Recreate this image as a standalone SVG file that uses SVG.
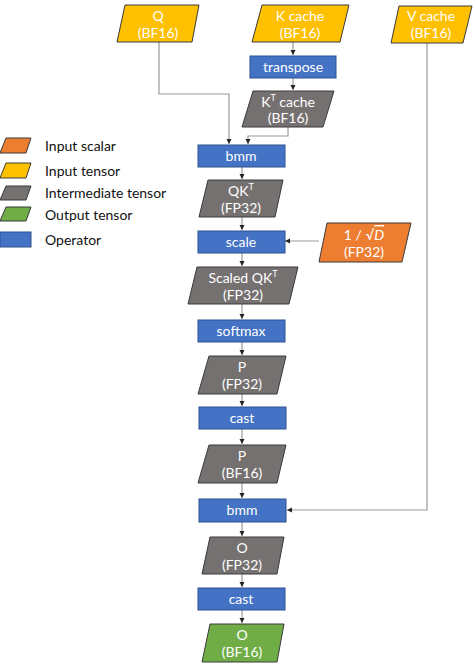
<svg xmlns="http://www.w3.org/2000/svg" width="474" height="671" viewBox="0 0 474 671">
<defs>
<marker id="ah" markerWidth="6" markerHeight="6" refX="5" refY="3" orient="auto" markerUnits="userSpaceOnUse">
<path d="M0,0.5 L5,3 L0,5.5 Z" fill="#222"/>
</marker>
<style>
text{font-family:Lato,"Open Sans","Liberation Sans",sans-serif;font-size:14px;}
.w{fill:#fff;text-anchor:middle;}
.k{fill:#111;}
.op{fill:#4472C4;stroke:#2F528F;stroke-width:1;}
.in{fill:#FFC000;stroke:#3a3a3a;stroke-width:1;}
.mid{fill:#767171;stroke:#3a3a3a;stroke-width:1;}
.sc{fill:#ED7D31;stroke:#3a3a3a;stroke-width:1;}
.out{fill:#70AD47;stroke:#3a3a3a;stroke-width:1;}
.c{fill:none;stroke:#9a9a9a;stroke-width:1.2;marker-end:url(#ah);}
</style>
</defs>
<rect width="474" height="671" fill="#fff"/>

<g id="legend">
<polygon class="sc" points="6,138 31,138 26,153 0,153"/>
<text class="k" x="45" y="151">Input scalar</text>
<polygon class="in" points="6,163 31,163 26,178 0,178"/>
<text class="k" x="45" y="176">Input tensor</text>
<polygon class="mid" points="6,186 31,186 26,200 0,200"/>
<text class="k" x="45" y="198">Intermediate tensor</text>
<polygon class="out" points="6,207 31,207 26,221 0,221"/>
<text class="k" x="45" y="220">Output tensor</text>
<rect class="op" x="0" y="232" width="31" height="15"/>
<text class="k" x="45" y="245">Operator</text>
</g>

<g id="connectors">
<path class="c" d="M159,42 V94 H229 V144"/>
<path class="c" d="M288,127 V136 H248 V144"/>
<path class="c" d="M293,42 V55"/>
<path class="c" d="M293,78 V90"/>
<path class="c" d="M427,43 V510 H287"/>
<path class="c" d="M319,241 H285"/>
<path class="c" d="M242,167 V179"/>
<path class="c" d="M242,217 V230"/>
<path class="c" d="M242,253 V266"/>
<path class="c" d="M242,304 V319"/>
<path class="c" d="M242,342 V355"/>
<path class="c" d="M242,394 V406"/>
<path class="c" d="M242,429 V444"/>
<path class="c" d="M242,483 V498"/>
<path class="c" d="M242,522 V536"/>
<path class="c" d="M242,574 V587"/>
<path class="c" d="M242,610 V623"/>
</g>

<g id="q">
<polygon class="in" points="125,5 199,5 192,42 117,42"/>
<text class="w" x="158" y="21">Q</text>
<text class="w" x="158" y="38">(BF16)</text>
</g>
<g id="kcache">
<polygon class="in" points="262,5 349,5 340,42 252,42"/>
<text class="w" x="300" y="21">K cache</text>
<text class="w" x="300" y="38">(BF16)</text>
</g>
<g id="vcache">
<polygon class="in" points="399,6 472,6 463,43 391,43"/>
<text class="w" x="431" y="21">V cache</text>
<text class="w" x="431" y="38">(BF16)</text>
</g>
<g id="transpose">
<rect class="op" x="250" y="56" width="86" height="22"/>
<text class="w" x="293" y="72">transpose</text>
</g>
<g id="ktcache">
<polygon class="mid" points="253,91 334,91 323,127 242,127"/>
<text class="w" x="288" y="107">K<tspan font-size="9" dy="-6">T</tspan><tspan dy="6"> cache</tspan></text>
<text class="w" x="288" y="123">(BF16)</text>
</g>
<g id="bmm1">
<rect class="op" x="198" y="145" width="87" height="22"/>
<text class="w" x="241" y="161">bmm</text>
</g>
<g id="qkt">
<polygon class="mid" points="208,180 283,180 275,217 199,217"/>
<text class="w" x="241" y="196">QK<tspan font-size="9" dy="-6">T</tspan></text>
<text class="w" x="241" y="213">(FP32)</text>
</g>
<g id="scale">
<rect class="op" x="198" y="231" width="87" height="22"/>
<text class="w" x="241" y="247">scale</text>
</g>
<g id="invsqrtd">
<polygon class="sc" points="327,223 411,223 402,262 319,262"/>
<text class="w" x="364" y="240">1 / √<tspan font-style="italic" text-decoration="overline">D</tspan></text>
<text class="w" x="364" y="257">(FP32)</text>
</g>
<g id="scaledqkt">
<polygon class="mid" points="197,267 298,267 289,304 188,304"/>
<text class="w" x="243" y="283">Scaled QK<tspan font-size="9" dy="-6">T</tspan></text>
<text class="w" x="243" y="300">(FP32)</text>
</g>
<g id="softmax">
<rect class="op" x="198" y="320" width="87" height="22"/>
<text class="w" x="241" y="336">softmax</text>
</g>
<g id="pfp32">
<polygon class="mid" points="209,356 286,356 277,394 198,394"/>
<text class="w" x="242" y="372">P</text>
<text class="w" x="242" y="389">(FP32)</text>
</g>
<g id="cast1">
<rect class="op" x="199" y="407" width="87" height="22"/>
<text class="w" x="242" y="423">cast</text>
</g>
<g id="pbf16">
<polygon class="mid" points="209,445 286,445 277,483 198,483"/>
<text class="w" x="242" y="461">P</text>
<text class="w" x="242" y="478">(BF16)</text>
</g>
<g id="bmm2">
<rect class="op" x="199" y="499" width="87" height="23"/>
<text class="w" x="242" y="515">bmm</text>
</g>
<g id="ofp32">
<polygon class="mid" points="210,537 284,537 277,574 202,574"/>
<text class="w" x="242" y="553">O</text>
<text class="w" x="242" y="570">(FP32)</text>
</g>
<g id="cast2">
<rect class="op" x="198" y="588" width="87" height="22"/>
<text class="w" x="241" y="604">cast</text>
</g>
<g id="obf16">
<polygon class="out" points="210,624 284,624 277,662 202,662"/>
<text class="w" x="242" y="640">O</text>
<text class="w" x="242" y="657">(BF16)</text>
</g>
</svg>
